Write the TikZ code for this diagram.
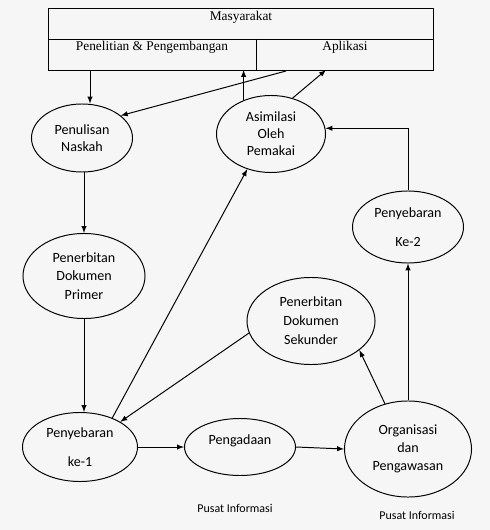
\documentclass[tikz,border=0pt]{standalone}
\usepackage{fontspec}
\setmainfont{Liberation Serif}
\newfontfamily\calibri{Carlito}
\usetikzlibrary{shapes.geometric}
\definecolor{bgpaper}{RGB}{246,246,246}

\begin{document}
\begin{tikzpicture}[x=0.025cm, y=-0.025cm, line width=0.7pt,
		oval/.style={draw, ellipse, inner sep=0pt, align=center, font=\calibri\fontsize{10}{12}\selectfont},
		flow/.style={->, >=latex},
		caption/.style={font=\calibri\fontsize{8.5}{10}\selectfont}]
			\fill[bgpaper] (0,0) rectangle (490,530);
			\useasboundingbox (0,0) rectangle (490,530);

			% kotak masyarakat
			\draw (48,8) rectangle (433,70);
			\draw (48,39) -- (433,39);
			\draw (256,39) -- (256,70);
			\node[font=\fontsize{9.5}{11}\selectfont] (masyarakat) at (241,17) {Masyarakat};
			\node[font=\fontsize{9.5}{11}\selectfont] (riset) at (152,47) {Penelitian \& Pengembangan};
			\node[font=\fontsize{9.5}{11}\selectfont] (aplikasi) at (345,47) {Aplikasi};

			\coordinate (rb1) at (90,70);
			\coordinate (rb2) at (286,71);
			\coordinate (rb3) at (243,70);
			\coordinate (rb4) at (326,70);

			% proses
			\node[oval, minimum width=25.25mm, minimum height=17mm] (naskah) at (82,138) {Penulisan\\Naskah};
			\node[oval, minimum width=27.25mm, minimum height=19.25mm] (asimilasi) at (271,134) {Asimilasi\\Oleh\\Pemakai};
			\node[oval, minimum width=27.75mm, minimum height=18mm] (sebar2) at (408,227) {Penyebaran\\[9pt]Ke-2};
			\node[oval, minimum width=30.5mm, minimum height=21.25mm] (primer) at (84,276) {Penerbitan\\[1pt]Dokumen\\[1pt]Primer};
			\node[oval, minimum width=32mm, minimum height=21.75mm] (sekunder) at (311,321) {Penerbitan\\[1.5pt]Dokumen\\[1.5pt]Sekunder};
			\node[oval, minimum width=28.75mm, minimum height=17.25mm] (sebar1) at (80,447) {Penyebaran\\[9pt]ke-1};
			\node[oval, minimum width=27.75mm, minimum height=14.25mm] (pengadaan) at (240,447) {};
			\node[font=\calibri\fontsize{10}{12}\selectfont] (pengadaanteks) at (240,441) {Pengadaan};
			\node[oval, minimum width=31.75mm, minimum height=24mm] (organisasi) at (408,449) {Organisasi\\[1pt]dan\\[1pt]Pengawasan};

			\node[caption] (pusat1) at (235,508) {Pusat Informasi};
			\node[caption] (pusat2) at (417,515) {Pusat Informasi};

			% alur
			\draw[flow] (rb1) -- (rb1 |- naskah.north);
			\draw[flow] (rb2) -- (naskah.30);
			\draw[flow] (asimilasi.129) -- (asimilasi.129 |- rb3);
			\draw[flow] (asimilasi.59) -- (rb4);
			\draw[flow] (sebar2.north) |- (asimilasi.6);
			\draw[flow] (primer.north |- naskah.south) -- (primer.north);
			\draw[flow] (primer.south) -- (primer.south |- sebar1.north);
			\draw[flow] (sebar1.42) -- (asimilasi.236);
			\draw[flow] (sekunder.191) -- (sebar1.32);
			\draw[flow] (sebar1.east) -- (pengadaan.west);
			\draw[flow] (pengadaan.east) -- (organisasi.west);
			\draw[flow] (organisasi.117) -- (sekunder.329);
			\draw[flow] (organisasi.north) -- (sebar2.south);
		\end{tikzpicture}
\end{document}
